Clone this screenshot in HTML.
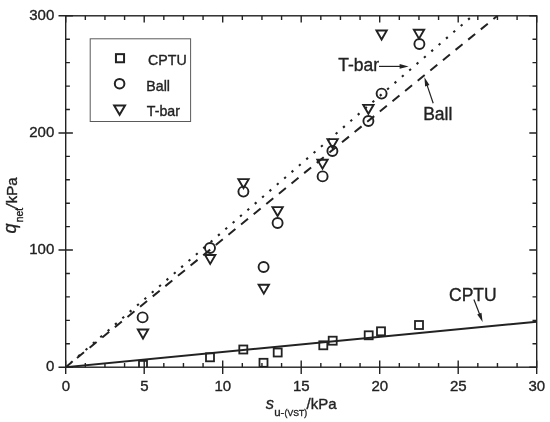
<!DOCTYPE html>
<html><head><meta charset="utf-8"><title>q_net vs s_u(VST)</title>
<style>html,body{margin:0;padding:0;background:#fff;}body{width:550px;height:422px;overflow:hidden;}svg{display:block;}text{font-family:"Liberation Sans",sans-serif;fill:#222;stroke:#222;stroke-width:0.35px;}</style>
</head><body>
<svg width="550" height="422" viewBox="0 0 550 422">
<rect x="0" y="0" width="550" height="422" fill="#ffffff"/>
<defs><clipPath id="plot"><rect x="65.70" y="15.80" width="471.00" height="351.40"/></clipPath></defs>
<g clip-path="url(#plot)" fill="none" stroke="#222222">
<line x1="65.70" y1="367.20" x2="536.70" y2="321.70" stroke-width="1.9"/>
<line x1="65.70" y1="367.20" x2="497.45" y2="15.80" stroke-width="2" stroke-dasharray="9 7.27" stroke-dashoffset="1.7"/>
<line x1="472.50" y1="15.80" x2="65.70" y2="367.20" stroke-width="2.1" stroke-dasharray="2.3 7.42" stroke-dashoffset="6.2"/>
</g>
<g clip-path="url(#plot)" fill="none" stroke="#222222">
<rect x="139.00" y="360.90" width="8.00" height="8.00" stroke-width="1.80"/>
<rect x="206.00" y="353.30" width="8.00" height="8.00" stroke-width="1.80"/>
<rect x="239.30" y="345.50" width="8.00" height="8.00" stroke-width="1.80"/>
<rect x="259.50" y="358.80" width="8.00" height="8.00" stroke-width="1.80"/>
<rect x="273.70" y="348.50" width="8.00" height="8.00" stroke-width="1.80"/>
<rect x="319.30" y="341.30" width="8.00" height="8.00" stroke-width="1.80"/>
<rect x="328.70" y="336.70" width="8.00" height="8.00" stroke-width="1.80"/>
<rect x="364.70" y="331.30" width="8.00" height="8.00" stroke-width="1.80"/>
<rect x="377.00" y="327.30" width="8.00" height="8.00" stroke-width="1.80"/>
<rect x="415.00" y="321.00" width="8.00" height="8.00" stroke-width="1.80"/>
<circle cx="142.60" cy="317.40" r="5.00" stroke-width="1.90"/>
<circle cx="210.00" cy="248.00" r="5.00" stroke-width="1.90"/>
<circle cx="243.40" cy="191.60" r="5.00" stroke-width="1.90"/>
<circle cx="263.60" cy="267.00" r="5.00" stroke-width="1.90"/>
<circle cx="277.60" cy="223.00" r="5.00" stroke-width="1.90"/>
<circle cx="322.60" cy="176.40" r="5.00" stroke-width="1.90"/>
<circle cx="332.40" cy="151.00" r="5.00" stroke-width="1.90"/>
<circle cx="368.40" cy="121.00" r="5.00" stroke-width="1.90"/>
<circle cx="381.60" cy="93.60" r="5.00" stroke-width="1.90"/>
<circle cx="419.40" cy="44.00" r="5.00" stroke-width="1.90"/>
<path d="M137.83 329.55 L148.17 329.55 L143.00 338.50 Z" stroke-width="1.90" stroke-linejoin="miter"/>
<path d="M205.03 254.95 L215.37 254.95 L210.20 263.90 Z" stroke-width="1.90" stroke-linejoin="miter"/>
<path d="M238.33 179.15 L248.67 179.15 L243.50 188.10 Z" stroke-width="1.90" stroke-linejoin="miter"/>
<path d="M258.63 284.75 L268.97 284.75 L263.80 293.70 Z" stroke-width="1.90" stroke-linejoin="miter"/>
<path d="M272.43 207.15 L282.77 207.15 L277.60 216.10 Z" stroke-width="1.90" stroke-linejoin="miter"/>
<path d="M317.33 159.75 L327.67 159.75 L322.50 168.70 Z" stroke-width="1.90" stroke-linejoin="miter"/>
<path d="M327.43 139.15 L337.77 139.15 L332.60 148.10 Z" stroke-width="1.90" stroke-linejoin="miter"/>
<path d="M363.23 104.85 L373.57 104.85 L368.40 113.80 Z" stroke-width="1.90" stroke-linejoin="miter"/>
<path d="M376.43 30.55 L386.77 30.55 L381.60 39.50 Z" stroke-width="1.90" stroke-linejoin="miter"/>
<path d="M413.83 29.75 L424.17 29.75 L419.00 38.70 Z" stroke-width="1.90" stroke-linejoin="miter"/>
</g>
<g fill="none" stroke="#222222" stroke-width="1.4" stroke-linecap="butt">
<rect x="65.70" y="15.80" width="471.00" height="351.40"/>
<path d="M65.70 360.40 V374.00 M65.70 15.80 V22.60 M85.33 363.00 V367.20 M85.33 15.80 V20.00 M104.95 363.00 V367.20 M104.95 15.80 V20.00 M124.58 363.00 V367.20 M124.58 15.80 V20.00 M144.20 360.40 V374.00 M144.20 15.80 V22.60 M163.82 363.00 V367.20 M163.82 15.80 V20.00 M183.45 363.00 V367.20 M183.45 15.80 V20.00 M203.07 363.00 V367.20 M203.07 15.80 V20.00 M222.70 360.40 V374.00 M222.70 15.80 V22.60 M242.32 363.00 V367.20 M242.32 15.80 V20.00 M261.95 363.00 V367.20 M261.95 15.80 V20.00 M281.58 363.00 V367.20 M281.58 15.80 V20.00 M301.20 360.40 V374.00 M301.20 15.80 V22.60 M320.83 363.00 V367.20 M320.83 15.80 V20.00 M340.45 363.00 V367.20 M340.45 15.80 V20.00 M360.07 363.00 V367.20 M360.07 15.80 V20.00 M379.70 360.40 V374.00 M379.70 15.80 V22.60 M399.32 363.00 V367.20 M399.32 15.80 V20.00 M418.95 363.00 V367.20 M418.95 15.80 V20.00 M438.57 363.00 V367.20 M438.57 15.80 V20.00 M458.20 360.40 V374.00 M458.20 15.80 V22.60 M477.82 363.00 V367.20 M477.82 15.80 V20.00 M497.45 363.00 V367.20 M497.45 15.80 V20.00 M517.08 363.00 V367.20 M517.08 15.80 V20.00 M536.70 360.40 V374.00 M536.70 15.80 V22.60 M58.50 367.20 H72.90 M529.30 367.20 H536.70 M65.70 343.77 H69.90 M532.50 343.77 H536.70 M65.70 320.35 H69.90 M532.50 320.35 H536.70 M65.70 296.92 H69.90 M532.50 296.92 H536.70 M65.70 273.49 H69.90 M532.50 273.49 H536.70 M58.50 250.07 H72.90 M529.30 250.07 H536.70 M65.70 226.64 H69.90 M532.50 226.64 H536.70 M65.70 203.21 H69.90 M532.50 203.21 H536.70 M65.70 179.79 H69.90 M532.50 179.79 H536.70 M65.70 156.36 H69.90 M532.50 156.36 H536.70 M58.50 132.93 H72.90 M529.30 132.93 H536.70 M65.70 109.51 H69.90 M532.50 109.51 H536.70 M65.70 86.08 H69.90 M532.50 86.08 H536.70 M65.70 62.65 H69.90 M532.50 62.65 H536.70 M65.70 39.23 H69.90 M532.50 39.23 H536.70 M58.50 15.80 H72.90 M529.30 15.80 H536.70"/>
</g>
<g font-size="15px">
<text x="54.3" y="371.40" text-anchor="end">0</text>
<text x="54.3" y="254.27" text-anchor="end">100</text>
<text x="54.3" y="137.13" text-anchor="end">200</text>
<text x="54.3" y="20.00" text-anchor="end">300</text>
<text x="65.80" y="390.6" text-anchor="middle">0</text>
<text x="144.30" y="390.6" text-anchor="middle">5</text>
<text x="222.80" y="390.6" text-anchor="middle">10</text>
<text x="301.30" y="390.6" text-anchor="middle">15</text>
<text x="379.80" y="390.6" text-anchor="middle">20</text>
<text x="458.30" y="390.6" text-anchor="middle">25</text>
<text x="536.80" y="390.6" text-anchor="middle">30</text>
</g>
<text x="265.8" y="408.6" font-size="16.5px" font-style="italic">s</text>
<text x="274.2" y="415.9" font-size="11.5px">u-</text>
<text x="284.6" y="415.9" font-size="8.6px">(VST)</text>
<text x="306.6" y="408.9" font-size="15px">/kPa</text>
<g transform="rotate(-90)">
<text x="-233.4" y="16.4" font-size="18px" font-style="italic">q</text>
<text x="-222.2" y="23.3" font-size="10.3px">net</text>
<text x="-208.4" y="16.7" font-size="15px" font-style="italic">/</text>
<text x="-203.3" y="16.7" font-size="15px">kPa</text>
</g>
<rect x="90.2" y="38.8" width="100.4" height="82.7" fill="#fff" stroke="#5a5a5a" stroke-width="1"/>
<g fill="none" stroke="#222222">
<rect x="115.95" y="54.15" width="8.10" height="8.10" stroke-width="2.00"/>
<circle cx="119.60" cy="83.70" r="4.80" stroke-width="2.00"/>
<path d="M114.17 105.40 L125.03 105.40 L119.60 114.80 Z" stroke-width="2.00" stroke-linejoin="miter"/>
</g>
<g font-size="14.2px">
<text x="148.1" y="65.1">CPTU</text>
<text x="146.3" y="90.7">Ball</text>
<text x="146.8" y="115.7">T-bar</text>
</g>
<g font-size="17.5px">
<text x="338.2" y="71.2">T-bar</text>
<text x="423.2" y="120.4">Ball</text>
<text x="449.0" y="300.6" font-size="17.5px">CPTU</text>
</g>
<line x1="379.00" y1="66.40" x2="400.60" y2="66.40" stroke="#222222" stroke-width="1.20"/><path d="M408.60 66.40 L399.60 68.70 L399.60 64.10 Z" fill="#222222"/>
<line x1="433.20" y1="103.20" x2="426.97" y2="84.87" stroke="#222222" stroke-width="1.20"/><path d="M424.40 77.30 L429.47 85.08 L425.12 86.56 Z" fill="#222222"/>
<line x1="473.90" y1="299.50" x2="479.71" y2="314.54" stroke="#222222" stroke-width="1.20"/><path d="M482.60 322.00 L477.21 314.44 L481.50 312.78 Z" fill="#222222"/>
</svg>
</body></html>
